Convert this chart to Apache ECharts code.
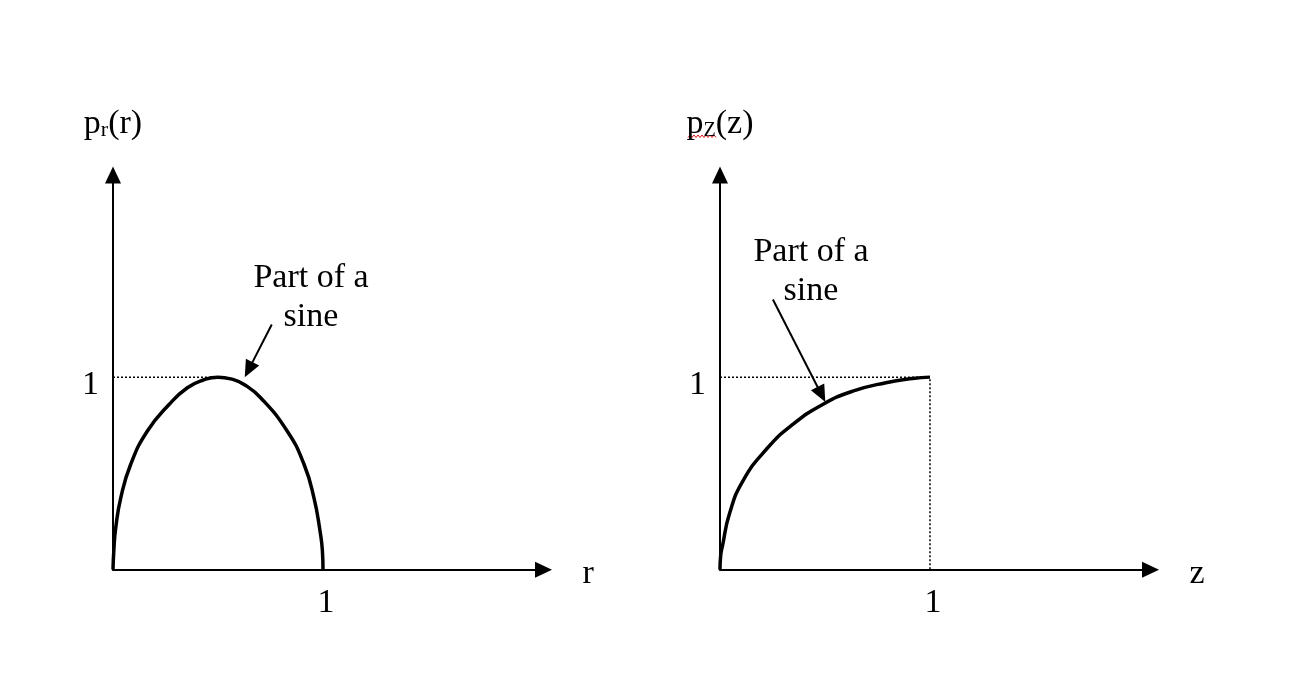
<!DOCTYPE html>
<html>
<head>
<meta charset="utf-8">
<script src="https://cdn.jsdelivr.net/npm/echarts@6/dist/echarts.min.js"></script>
<style>
  html, body { margin: 0; padding: 0; background: #fff; }
  #chart { width: 1307px; height: 689px; }
</style>
</head>
<body>
<div id="chart"></div>
<script>
// left panel: p_r(r)
const rVals  = [0, 0.004, 0.013, 0.037, 0.084, 0.163, 0.267, 0.354, 0.43, 0.5, 0.57, 0.624, 0.703, 0.83, 0.91, 0.957, 0.986, 0.997, 1];
const prVals = [0, 0.1, 0.217, 0.373, 0.546, 0.719, 0.858, 0.945, 0.985, 1, 0.988, 0.962, 0.893, 0.719, 0.546, 0.373, 0.199, 0.1, 0];

// right panel: p_z(z)
const zVals  = [0, 0.003, 0.013, 0.044, 0.108, 0.227, 0.346, 0.489, 0.632, 0.79, 0.917, 1];
const pzVals = [0, 0.07, 0.13, 0.286, 0.459, 0.633, 0.754, 0.858, 0.927, 0.971, 0.993, 1];

// dotted guide lines
const leftGuide  = [[0, 1], [0.5, 1]];
const rightGuide = [[0, 1], [1, 1], [1, 0]];

// annotation arrows (start, end) in data units
const leftArrow  = [[0.756, 1.273], [0.646, 1.039]];
const rightArrow = [[0.252, 1.403], [0.483, 0.910]];

const tickValues = [1];
const axisMax = 2.05;
const noteText = 'Part of a\nsine';

const font = 'Liberation Serif, Times New Roman, serif';
const zip = (xs, ys) => xs.map((x, i) => [x, ys[i]]);

function xAxis(idx, name) {
  return {
    type: 'value', gridIndex: idx, min: 0, max: axisMax, interval: 1,
    name: '{n|' + name + '}', nameLocation: 'end', nameGap: 39,
    nameTextStyle: { verticalAlign: 'middle',
      rich: { n: { fontFamily: font, fontSize: 34, color: '#000', padding: [8, 0, 0, 0] } } },
    axisLine: { show: true, symbol: ['none', 'triangle'], symbolSize: [16, 17],
      lineStyle: { color: '#000', width: 2 } },
    axisTick: { show: false },
    splitLine: { show: false },
    axisLabel: { fontFamily: font, fontSize: 34, color: '#000', margin: 16, padding: [0, 0, 0, 6],
      formatter: v => tickValues.includes(v) ? String(v) : '' }
  };
}

function yAxis(idx, sub, arg, subSize) {
  return {
    type: 'value', gridIndex: idx, min: 0, max: axisMax, interval: 1,
    name: '{p|p}{s|' + sub + '}{p|(' + arg + ')}', nameLocation: 'end', nameGap: 34,
    nameTextStyle: {
      align: 'center',
      rich: {
        p: { fontFamily: font, fontSize: 34, lineHeight: 34, color: '#000', verticalAlign: 'bottom' },
        s: { fontFamily: font, fontSize: subSize, lineHeight: subSize, color: '#000', verticalAlign: 'bottom' }
      }
    },
    axisLine: { show: true, symbol: ['none', 'triangle'], symbolSize: [16, 17],
      lineStyle: { color: '#000', width: 2 } },
    axisTick: { show: false },
    splitLine: { show: false },
    axisLabel: { margin: 14,
      formatter: v => tickValues.includes(v) ? '{t|' + v + '}' : '',
      rich: { t: { fontFamily: font, fontSize: 34, color: '#000', padding: [16, 0, 0, 0] } } }
  };
}

function arrowLine(pts) {
  return {
    silent: true, animation: false,
    symbol: ['none', 'triangle'], symbolSize: [15, 17],
    lineStyle: { color: '#000', width: 2, type: 'solid' },
    label: { show: false },
    emphasis: { disabled: true },
    data: [[{ coord: pts[0] }, { coord: pts[1] }]]
  };
}

function curve(idx, data, arrow) {
  return {
    type: 'line', xAxisIndex: idx, yAxisIndex: idx, data: data,
    smooth: 0.5, showSymbol: false, silent: true,
    lineStyle: { color: '#000', width: 3.5 },
    markLine: arrowLine(arrow)
  };
}

function guide(idx, data) {
  return {
    type: 'line', xAxisIndex: idx, yAxisIndex: idx, data: data,
    showSymbol: false, silent: true,
    lineStyle: { color: '#000', width: 1.5, type: [2, 2] }
  };
}

// red spell-check squiggle under "pZ"
const squiggle = [];
for (let x = 688, k = 0; x <= 716; x += 2, k++) squiggle.push([x, k % 2 ? 135 : 137.5]);

const option = {
  backgroundColor: '#fff',
  animation: false,
  grid: [
    { left: 113, top: 175, width: axisMax * 210, height: axisMax * 192.5 },
    { left: 720, top: 175, width: axisMax * 210, height: axisMax * 192.5 }
  ],
  xAxis: [xAxis(0, 'r'), xAxis(1, 'z')],
  yAxis: [yAxis(0, 'r', 'r', 22), yAxis(1, 'Z', 'z', 20)],
  series: [
    guide(0, leftGuide),
    guide(1, rightGuide),
    curve(0, zip(rVals, prVals), leftArrow),
    curve(1, zip(zVals, pzVals), rightArrow)
  ],
  graphic: [
    { type: 'text', x: 311, y: 297.5, silent: true,
      style: { text: noteText, font: '34px ' + font, fill: '#000', align: 'center', verticalAlign: 'middle', lineHeight: 39 } },
    { type: 'text', x: 811, y: 271.5, silent: true,
      style: { text: noteText, font: '34px ' + font, fill: '#000', align: 'center', verticalAlign: 'middle', lineHeight: 39 } },
    { type: 'polyline', silent: true, shape: { points: squiggle },
      style: { stroke: '#d11', lineWidth: 1, fill: null } }
  ]
};

const chart = echarts.init(document.getElementById('chart'));
chart.setOption(option);
</script>
</body>
</html>
